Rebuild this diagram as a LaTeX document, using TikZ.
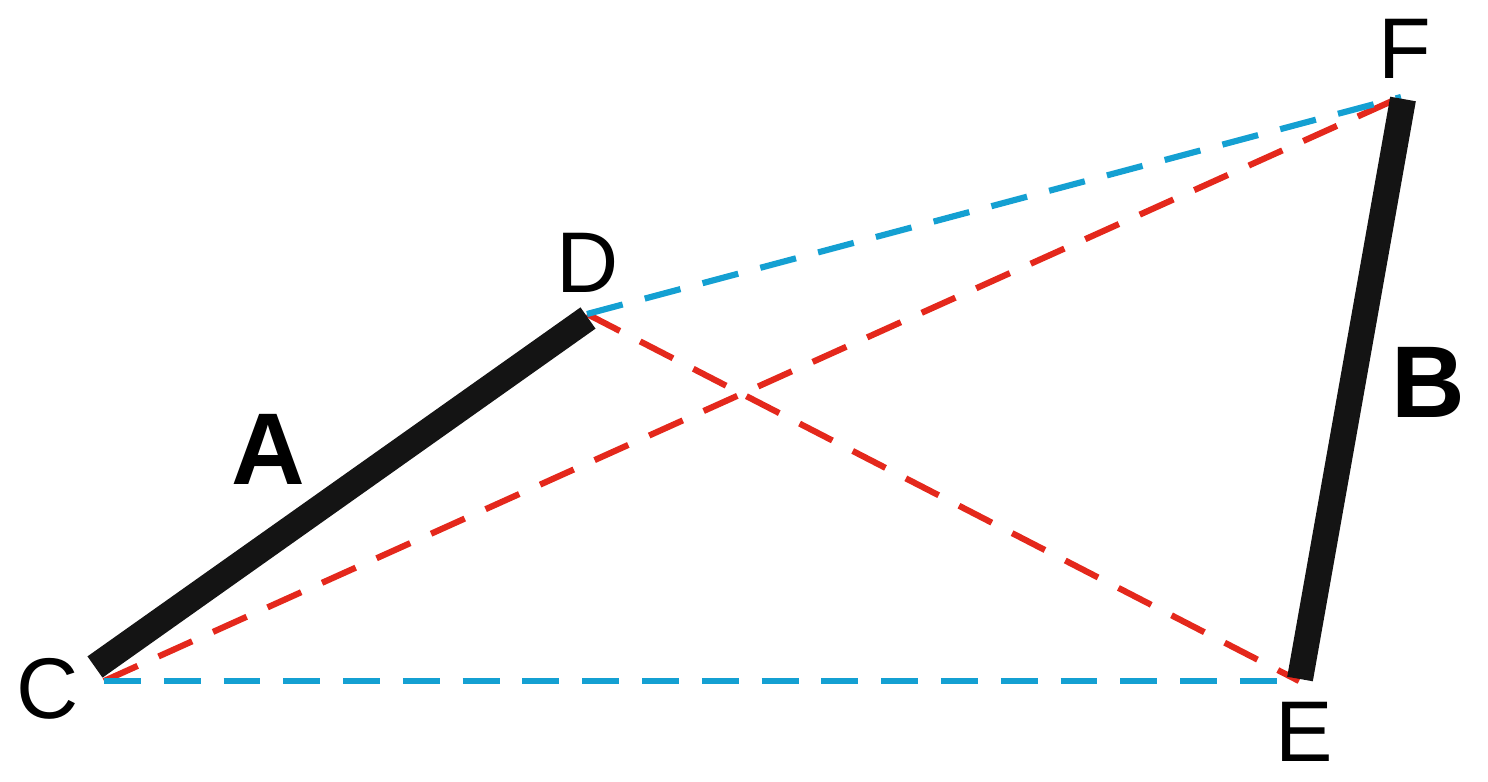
\documentclass[tikz,border=0pt]{standalone}
\usepackage{fontspec}
\setmainfont{Liberation Sans}
\definecolor{lineblue}{RGB}{20,160,210}
\definecolor{linered}{RGB}{228,40,28}
\tikzset{
  bar/.style={line width=7.4pt, color=black!92},
  bluedash/.style={line width=1.75pt, lineblue, dash pattern=on 10.5pt off 6.5pt},
  reddash/.style={line width=1.75pt, linered, dash pattern=on 10.5pt off 6.5pt},
  ptlabel/.style={font=\fontsize{24.5}{28}\selectfont},
  barlabel/.style={font=\fontsize{29}{33}\selectfont\bfseries}
}
\begin{document}
\begin{tikzpicture}[x=0.01cm, y=-0.01cm]
			\useasboundingbox (0,0) rectangle (1488,782);
			\coordinate (C) at (104,681);
			\coordinate (D) at (587,314);
			\coordinate (E) at (1299,681);
			\coordinate (F) at (1401,97);
			% dashed lines
			\draw[reddash] (C) -- (F);
			\draw[reddash] (D) -- (E);
			\draw[bluedash] (C) -- (E);
			\draw[bluedash] (D) -- (F);
			% bars
			\draw[bar] (95,667) -- (588,318);
			\draw[bar] (1300,679) -- (1403,99);
			\node[ptlabel] (lc) at (48,689){C};
			\node[ptlabel] (ld) at (588,263){D};
			\node[ptlabel] (le) at (1304,732){E};
			\node[ptlabel] (lf) at (1405,49){F};
			\node[barlabel] (la) at (268,449){A};
			\node[barlabel] (lb) at (1428,382){B};
		\end{tikzpicture}
\end{document}
